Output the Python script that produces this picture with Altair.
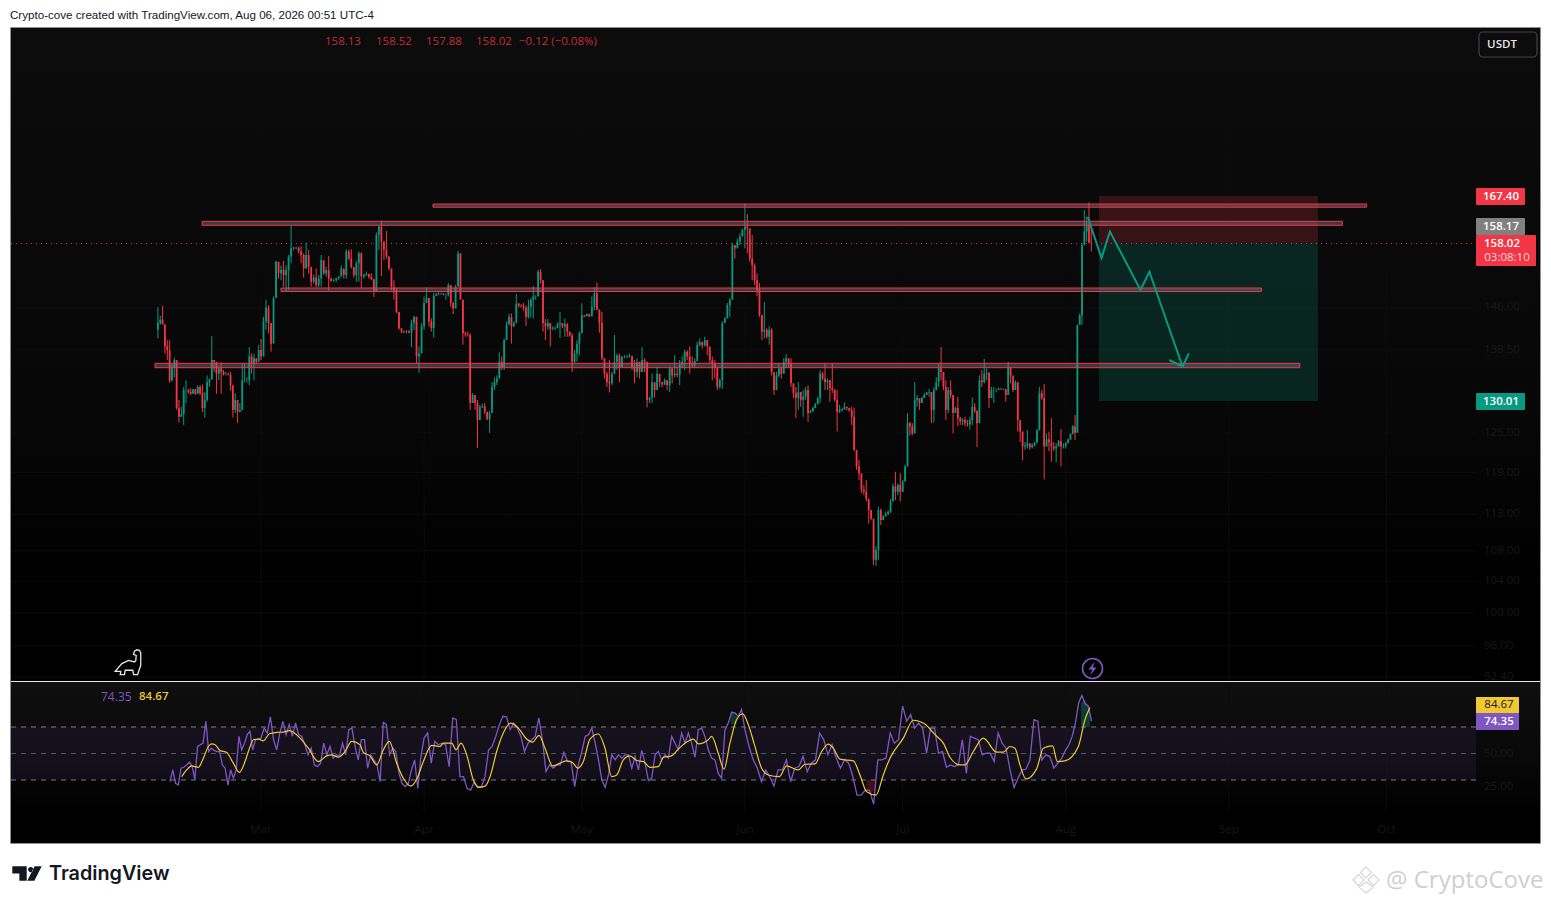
import altair as alt
import numpy as np
import pandas as pd

# Candles per month as (high, low, close); open = previous close
FIRST_OPEN = 142.0
FEB = [(146.1,140.5,143.2),(144.5,142.9,143.8),(146.3,142.9,143.0),(141.1,137.9,139.1),(140.2,136.8,138.5),
(140.2,133.0,133.4),(136.2,133.2,135.6),(137.2,133.9,136.8),(136.8,128.6,128.9),(130.2,126.6,127.5),
(129.1,127.5,127.9),(132.3,126.2,131.8),(133.4,129.7,131.8),(132.0,131.2,131.5),(132.1,131.0,131.2),
(132.0,131.2,131.9),(132.0,131.0,131.2),(132.6,131.2,132.3),(132.6,131.0,131.3),(132.7,128.2,128.9),
(131.5,127.4,130.2),(134.2,129.9,133.1),(133.7,132.3,133.5),(140.9,133.7,136.8),(136.8,134.8,136.5),
(136.0,131.2,134.5),(135.7,133.4,135.4),(136.4,131.2,134.8),(135.1,134.2,134.4),(134.8,134.2,134.4),
(134.7,134.2,134.3),(134.8,131.7,132.6),(131.0,127.4,128.6),(131.3,128.1,130.2),(130.2,126.5,128.3),
(129.7,128.2,128.6),(136.2,128.6,133.4),(136.2,133.1,133.4),(133.9,133.0,133.4),(139.0,132.6,137.4),
(137.9,134.5,136.2),(137.9,133.4,137.1),(137.0,136.2,136.5),(139.4,136.5,138.5)]
MAR = [(140.4,136.8,137.4),(144.3,140.2,143.5),(147.4,142.0,146.0),(146.4,141.4,143.2),(143.2,138.2,139.6),
(148.0,144.3,147.7),(154.7,148.0,154.5),(153.8,151.3,152.3),(153.8,151.0,153.0),(154.7,149.8,152.0),
(153.8,148.9,152.9),(155.8,149.2,155.5),(161.6,154.2,157.1),(157.4,156.7,157.1),(157.4,156.9,157.2),
(157.4,156.1,156.5),(157.5,154.2,155.8),(156.1,151.5,153.2),(158.2,153.2,155.8),(156.8,152.3,153.5),
(152.3,149.8,150.7),(152.0,150.4,151.5),(153.2,149.7,150.1),(152.0,149.7,151.3),(155.8,149.8,154.8),
(153.5,152.0,152.3),(153.5,151.7,152.9),(155.6,149.1,151.3),(151.5,150.7,150.9),(151.3,150.7,151.0),
(151.5,150.7,151.4),(151.8,151.0,151.7),(153.8,151.7,153.2),(152.9,151.3,152.0),(156.9,151.3,156.5),
(156.8,154.8,155.1),(156.9,153.2,153.5),(153.4,151.5,152.0),(154.7,150.7,154.2),(156.5,150.7,156.1),
(156.3,149.5,151.7),(152.2,151.3,152.0),(152.6,151.8,152.2),(152.0,151.3,151.6),(152.3,151.0,151.2),
(151.3,147.9,148.9),(160.2,152.9,159.7),(161.7,156.8,161.4),(162.6,151.8,158.4),(158.4,154.8,156.8),
(160.5,155.1,155.5),(155.5,152.9,153.2),(153.2,149.2,149.8),(151.0,147.4,149.2),(149.5,144.9,145.2),
(145.2,142.0,142.3),(141.9,141.4,141.7),(141.9,141.4,141.6),(142.0,141.4,141.7),(142.0,141.4,141.5),
(143.8,139.0,143.2),(144.5,142.0,144.3),(144.3,136.2,137.4),(139.1,134.6,137.9),(143.2,138.5,142.6)]
APR = [(148.0,142.0,146.8),(149.7,147.1,147.7),(147.1,142.6,143.5),(144.0,141.7,142.3),(148.6,140.6,148.1),
(148.7,148.1,148.4),(148.8,148.2,148.5),(148.7,148.3,148.5),(148.6,148.2,148.3),(148.5,147.4,148.3),
(150.5,148.0,150.1),(150.0,146.1,146.8),(147.0,144.8,145.8),(150.1,148.3,149.8),(156.6,150.1,156.1),
(156.1,148.0,147.4),(147.4,139.4,141.4),(141.7,140.8,141.2),(141.7,140.8,141.1),(141.4,128.6,129.7),
(131.3,129.7,131.0),(130.5,128.6,129.7),(130.2,122.7,127.0),(129.4,128.9,129.1),(129.6,128.9,129.2),
(129.7,127.9,128.3),(128.1,127.0,127.1),(128.5,125.0,128.1),(133.1,129.1,132.3),(133.9,131.8,133.1),
(134.2,132.6,133.7),(138.1,134.2,136.5),(137.4,135.1,135.6),(140.5,135.1,140.2),(143.5,140.5,142.9),
(144.9,143.2,144.3),(144.9,139.6,142.6),(143.5,142.6,143.2),(148.5,144.8,146.7),(146.8,146.0,146.3),
(146.6,146.0,146.2),(146.8,145.4,145.9),(146.4,142.7,144.3),(147.4,144.0,146.1),(147.7,144.2,147.4),
(149.9,144.0,148.0),(148.3,147.4,148.0),(153.0,148.3,152.6),(153.1,150.4,151.0),(151.0,141.7,143.2),
(143.9,140.2,142.6),(143.9,142.0,143.2),(143.2,139.1,142.1),(142.6,142.0,142.2),(142.6,142.0,142.3),
(143.3,142.5,143.0),(145.2,140.6,143.2),(143.2,142.3,142.6),(144.0,140.8,143.0),(143.2,140.8,141.7),
(141.7,140.8,141.0),(141.4,134.8,136.5),(138.5,136.2,137.9),(140.2,136.5,139.6),(141.7,137.6,141.4)]
MAY = [(146.7,141.7,144.6),(144.6,144.3,144.4),(144.9,144.5,144.8),(144.9,144.3,144.4),(148.0,144.9,146.1),
(149.7,145.5,148.6),(150.6,145.5,145.6),(145.6,141.5,143.2),(145.2,136.8,137.1),(137.1,133.7,134.5),
(134.8,132.3,133.1),(136.8,131.4,132.9),(134.8,132.6,134.5),(141.1,134.5,136.5),(137.9,135.1,137.6),
(137.9,133.1,135.6),(137.5,137.1,137.3),(137.6,137.1,137.3),(137.6,137.1,137.4),(137.9,137.2,137.5),
(137.1,135.1,135.6),(136.8,132.9,134.8),(137.1,133.9,136.5),(136.2,133.7,134.8),(139.0,134.8,136.8),
(137.1,134.8,136.5),(136.2,129.0,130.2),(130.7,129.7,130.6),(134.5,129.7,133.1),(132.9,130.6,131.8),
(135.6,132.3,134.5),(133.9,132.3,133.1),(133.0,132.3,132.7),(133.7,132.6,133.4),(133.4,131.8,132.6),
(135.7,131.5,135.4),(135.4,132.9,134.2),(137.6,133.9,134.5),(135.6,133.9,134.3),(136.8,132.6,136.0),
(137.4,135.4,136.5),(138.6,135.1,138.2),(138.5,136.8,137.4),(139.1,134.5,136.2),(137.4,135.6,136.0),
(137.1,135.4,136.6),(139.9,137.1,139.4),(140.5,139.1,139.9),(139.8,138.8,139.3),(140.8,139.1,140.2),
(140.2,137.6,139.1),(138.8,136.2,136.8),(137.4,133.4,136.2),(136.8,133.7,135.6),(134.5,131.8,132.3),
(133.7,132.0,133.4),(143.5,132.0,143.2),(144.3,143.5,144.0),(146.8,144.3,146.4),(147.7,144.3,147.4),
(158.1,147.4,157.7),(157.7,155.1,157.1),(159.0,157.4,158.4),(160.0,157.7,159.4),(161.0,159.7,160.7)]
JUN = [(166.1,157.1,161.4),(163.9,156.1,161.0),(158.7,154.5,155.1),(159.7,151.0,153.8),(154.2,150.1,151.0),
(152.3,148.0,149.2),(150.5,144.3,144.6),(144.6,140.2,141.7),(147.0,140.5,142.0),(142.3,140.5,140.8),
(142.7,139.4,142.0),(142.3,134.2,134.8),(133.9,131.0,131.8),(134.8,132.9,134.2),(136.2,133.9,135.4),
(135.6,133.7,134.5),(137.1,134.5,136.5),(137.8,135.4,137.1),(136.8,135.6,136.2),(137.1,132.3,132.9),
(132.9,130.5,131.3),(132.3,127.3,130.5),(133.1,128.6,131.5),(131.5,129.1,130.2),(131.8,127.5,130.7),
(132.3,130.2,131.8),(132.6,126.7,128.1),(128.6,128.1,128.4),(129.1,128.3,128.9),(129.7,128.9,129.5),
(130.7,129.7,130.5),(135.1,129.7,134.5),(134.8,133.4,133.7),(136.2,131.8,133.1),(133.7,131.8,133.4),
(133.4,129.9,132.1),(136.2,131.3,131.8),(132.0,129.9,130.2),(131.8,125.2,128.3),(129.4,128.1,128.6),
(128.9,128.3,128.7),(129.8,128.6,129.1),(129.1,128.5,128.9),(128.9,128.3,128.5),(129.1,126.2,127.5),
(128.9,122.2,122.4),(122.2,119.4,119.9),(120.9,117.9,118.9),(117.9,116.0,116.5),(117.2,115.7,116.2),
(117.9,114.8,115.2),(114.8,111.7,113.6),(113.6,112.2,112.4),(111.7,106.1,106.8),(108.6,106.0,108.1),
(114.1,106.8,113.6),(113.8,111.5,112.2),(112.9,112.2,112.7),(113.4,112.7,113.0),(113.6,112.9,113.3),
(115.2,113.2,114.8),(117.4,115.0,117.0),(119.1,115.0,116.2),(117.4,115.7,117.2),(118.9,114.8,116.2)]
JUL = [(117.9,116.2,117.7),(120.1,117.9,119.9),(128.1,119.9,126.5),(126.7,124.6,126.0),(126.5,124.6,124.9),
(133.1,128.1,130.2),(131.0,129.1,130.5),(130.2,128.6,129.7),(130.7,129.7,130.5),(131.3,130.5,131.0),
(131.5,131.0,131.4),(132.0,130.7,131.5),(130.5,126.5,128.6),(132.3,126.6,131.8),(133.9,131.8,133.1),
(136.2,132.3,135.4),(139.0,133.4,134.8),(134.8,131.8,132.3),(133.4,127.0,128.6),(132.3,128.1,131.8),
(133.4,130.5,131.0),(130.5,124.9,128.1),(129.1,128.1,128.9),(130.7,126.0,127.3),(127.5,126.2,126.8),
(127.3,126.2,127.0),(127.5,126.0,126.5),(127.0,126.0,126.3),(127.5,125.5,127.0),(130.6,126.2,129.1),
(129.7,128.1,128.4),(128.6,122.8,126.5),(134.2,131.8,133.4),(135.1,132.3,133.1),(137.0,132.9,134.5),
(135.4,133.4,134.6),(134.8,128.9,130.5),(132.3,130.5,131.8),(132.3,129.7,131.8),(132.0,131.5,131.8),
(132.2,131.8,132.0),(132.2,131.8,132.0),(132.0,131.8,131.9),(132.0,129.9,131.0),(136.5,132.9,135.6),
(134.6,132.9,134.2),(132.9,131.5,131.8),(133.4,131.8,133.1),(131.8,125.2,127.0),(126.5,123.6,125.2),
(125.2,120.8,122.9),(123.6,122.4,123.0),(125.4,122.6,123.4),(123.1,122.4,122.8),(123.4,122.6,123.1),
(123.6,122.9,123.5),(125.6,123.4,125.4),(132.3,125.4,131.3),(131.8,130.2,130.5),(132.8,118.0,122.9),
(124.9,122.9,124.0),(125.2,122.2,123.5),(127.3,120.6,122.9),(123.6,122.2,122.6),(123.4,120.5,122.9),
(123.9,122.9,123.7),(125.6,119.9,122.9),(123.4,122.6,123.0)]
AUG = [(123.6,122.6,123.4),(124.1,123.6,124.0),(124.9,123.9,124.8),(126.2,124.9,126.0),(127.8,123.9,125.0),
(142.9,125.2,142.9),(144.9,142.9,144.6),(158.1,142.9,157.7),(164.7,158.1,160.4),(163.4,158.4,161.7),
(166.3,158.4,158.13),(161.4,156.5,158.02)]
CANDLE_MONTHS = [FEB, MAR, APR, MAY, JUN, JUL, AUG]
CANDLE_EDGES = [-19.6, 0, 31, 61, 92, 122, 153, 158.3]

# RSI (purple) per month
RSI_FEB = [28.7,37.6,27.5,26.2,38.9,39.6,41.4,43.4,40.6,30.5,55.3,56.6,57.8,74.3,51.5,54,52.3,51.5,51.5,41.4,38.9,26.2,37.6,31.3,37.6,62.9,52.8,57.8,64.2,66.7,52.8,60.4,60.9]
RSI_MAR = [61.6,69.2,65.4,77.6,60.4,52.8,65.4,74.3,64.2,71.8,62.9,73,64.2,62.9,56.6,49,54,41.4,40.1,42.7,57.8,49,55.3,46.5,49,48.3,57.8,49,68,69.2,55.3,45.2,60.4,60.4,38.9,49,45.2,41.4,28.7,73.5,71.8,49,54,51.5,35,27.5,25,27.5,37.6,45.2,23.7,47.7]
RSI_APR = [61.6,65.4,42.7,59.1,56.6,57.8,56.6,40.1,76.8,75.6,32.5,32.5,23.7,22.4,28.7,24.9,24.9,32.5,52.8,55.3,62.9,71.8,78.1,77.6,68,73,69.2,62.9,51.5,57.8,60.4,62.9,76.8,60.4,36.3,41.4,38.9,41.4,41.4,50.8,43.9,43.9,24.9,41.4]
RSI_MAY = [51.5,62.9,64.2,69.2,57.8,45.2,30,24.4,33.8,49,45.2,49,46.5,49,49,38.9,47.7,37.6,52.3,42.7,29.5,31.3,49,51.5,45.2,49,46.5,62.9,57.8,52.8,65.4,57.8,65.4,57.8,47.2,68,69.2,62.9,52.8,46.5,45.2,35,31.3,68,73,81.1,80.6,78.1,83.2]
RSI_JUN = [68,55.3,45.2,38.9,28.7,37.6,32.5,25.4,37.6,37.6,45.2,28.7,38.9,40.1,47.7,36.3,42.7,45.2,65.4,60.4,49,56.6,46.5,38.9,45.2,42.7,32.5,18.6,18.6,22.4,22.4,11.8,45.2,45.2,46.5,65.4,57.8,60.4]
RSI_JUL = [85.7,74.3,79.4,69.2,73,69.2,50.2,69.2,69.2,50.2,51.5,39.6,41.4,40.1,41.4,60.4,35,62.9,61.6,60.4,49,50.2,50.2,43.9,65.4,57.8,54,37.6,24.4,31.3,37.6,38.1,45.2,75.6,74.3,45.2,49,47.7,38.9,42.7,46.5]
RSI_AUG = [52.8,56.6,62.9,73,88.2,93.8,87.7,85.7,74.35]
RSI_MONTHS = [RSI_FEB, RSI_MAR, RSI_APR, RSI_MAY, RSI_JUN, RSI_JUL, RSI_AUG]
RSI_EDGES = [-17.3, 0, 31, 61, 92, 122, 153, 157.9]

# RSI moving average (yellow)
MA_DAY = [-15.08,-14.13,-13.18,-11.91,-10.96,-10.01,-9.38,-8.74,-7.79,-6.52,-5.26,-4.12,-3.04,-2.41,-1.45,-0.5,0.45,1.59,2.98,4.25,5.39,7.42,9.0,10.9,12.49,13.44,14.7,15.97,17.24,18.82,19.46,20.73,21.99,23.26,24.4,25.79,27.06,28.46,29.6,30.86,32.45,34.03,34.67,36.25,37.08,38.03,39.1,40.37,41.32,42.59,43.54,44.81,46.07,47.47,48.93,50.51,51.65,52.85,54.0,55.45,56.85,58.12,59.38,60.2,61.28,62.55,64.13,65.4,66.67,67.62,68.89,
70.15,71.42,72.69,73.95,75.54,76.49,78.07,79.34,80.61,82.19,83.14,85.04,85.68,86.94,88.02,89.16,90.43,91.57,92.65,93.73,95.18,96.45,98.54,99.94,102.15,103.42,105.32,106.59,107.86,108.81,110.08,112.61,113.88,115.15,116.92,118.31,119.58,122.12,124.02,126.23,128.14,129.72,130.99,132.89,133.84,135.42,137.32,139.86,141.13,142.39,143.34,144.29,145.44,147.46,148.73,150.5,151.39,152.85,155.39,156.65,157.6]
MA_VAL = [32.5,37.6,40.6,39.6,46.5,55.3,57.3,56.6,52.3,50.8,42.7,35.8,43.9,51.5,60.4,60.9,59.6,64.9,65.9,66.2,67.2,61.6,54,43.9,48.2,49,47.2,51.5,59.1,56.6,50.8,48.2,41.4,52.8,59.1,42.7,31.3,25.4,30.5,43.9,56.1,55.3,57.8,57.8,52.8,57.8,49,30,24.4,25.4,32.5,51.5,65.4,73,69.2,60.9,58.6,63.7,54,40.6,42.7,44.4,42.7,38.9,43.9,60.9,64.7,54,32.5,33.8,45.2,
48.2,44.7,43.9,39.6,40.1,47,48.2,53.3,57.8,60.9,57.3,60.4,62.9,50.2,38.1,57.8,75.6,79.9,71.8,57.8,38.9,33.8,32.5,40.6,37.6,41.9,42.1,51.5,57.1,54,45.7,44.4,33.8,21.1,18.6,33.8,46.5,61.6,75.1,72.3,64.2,57.8,47.2,41.4,41.4,51.5,61.6,51,51,55.3,54,41.4,30.8,38.4,54,55.8,43.9,44.4,55.3,75.6,84.67]

# Drawn boxes: day-left, day-right, price-bottom, price-top
BOX_D0 = [32.7, -11.2, 3.8, -20.15]
BOX_D1 = [210.2, 205.6, 190.2, 197.5]
BOX_P0 = [165.3, 161.64, 148.9, 135.5]
BOX_P1 = [165.95, 162.44, 149.56, 136.24]

# Short position tool
POS_D0, POS_D1 = 159.3, 200.95
POS_STOP, POS_ENTRY, POS_TARGET = 167.6, 158.13, 130.01

# Drawn arrow
ARROW_D = [157.2,159.8,161.4,167.2,168.9,175.2]
ARROW_P = [163.3,155.2,160.4,149.2,152.6,135.7]
HEAD_D = [172.7,175.2,176.4]
HEAD_P = [136.8,135.7,137.9]

LAST_PRICE = 158.02
AXIS_PRICES = [146.0,138.5,125.0,119.0,113.0,108.0,104.0,100.0,96.0,92.4]
AXIS_TEXT = ["146.00","138.50","125.00","119.00","113.00","108.00","104.00","100.00","96.00","92.40"]
RSI_TICKS = [50, 25]
RSI_TEXT = ["50.00","25.00"]
MONTH_DAYS = [0,31,61,92,122,153,184,214]
MONTH_NAMES = ["Mar","Apr","May","Jun","Jul","Aug","Sep","Oct"]
RSI_OUTER_LEVELS = [70, 30]
RSI_MID_LEVEL = [50]

OHLC_TEXT = ["158.13","158.52","157.88","158.02","\u22120.12 (\u22120.08%)"]
OHLC_X = [325,376,426,476,519]

OB_D = [155.9,156.2,156.7,157.1,157.6]
OB_TOP = [88,90,90,87,84]
JUNE_D = [89.3,89.9,90.5]
JUNE_TOP = [80.6,80.6,78]
JULY_D = [115.1,115.9,116.7]
JULY_LOW = [23,20,22]

RED = "#f23645"
GREEN = "#089981"
PURPLE = "#7e57c2"
YELLOW = "#f2c832"
FONT = "Open Sans"

XS = alt.Scale(domain=[0, 214], range=[253, 1378.6], nice=False, zero=False)
PS = alt.Scale(type="log", domain=[100, 167.4], range=[605, 189], nice=False)
RS = alt.Scale(domain=[30, 70], range=[772, 719], nice=False, zero=False)

def X(f="day"):
    return alt.X(f + ":Q", scale=XS, axis=None)
def YP(f):
    return alt.Y(f + ":Q", scale=PS, axis=None)
def YR(f):
    return alt.Y(f + ":Q", scale=RS, axis=None)

ONE = alt.Data(values=[{"a": 1}])
def px(v):
    return alt.value(v - 8)

def rect(x0, y0, x1, y1, **kw):
    return alt.Chart(ONE).mark_rect(**kw).encode(x=px(x0), x2=px(x1), y=px(y0), y2=px(y1))

def text(s, x, y, color, size=11.5, align="left", weight="normal", font=FONT):
    return alt.Chart(ONE).mark_text(fontSize=size, align=align, baseline="middle", color=color,
                                    fontWeight=weight, font=font).encode(
        x=px(x), y=px(y + 0.7), text=alt.value(s))

def glyph(path, x, y, half, **kw):
    return alt.Chart(ONE).mark_point(shape=path, size=(2 * half) ** 2, opacity=1, **kw).encode(x=px(x), y=px(y))

# Tables
rows = []
prev = FIRST_OPEN
for i, month in enumerate(CANDLE_MONTHS):
    days = np.linspace(CANDLE_EDGES[i], CANDLE_EDGES[i + 1], len(month), endpoint=False)
    for d, (h, l, c) in zip(days, month):
        rows.append(dict(day=float(d), open=prev, high=h, low=l, close=c))
        prev = c
candles = pd.DataFrame(rows)
up = candles[candles.close >= candles.open]
down = candles[candles.close < candles.open]

rsi_rows = []
for i, month in enumerate(RSI_MONTHS):
    days = np.linspace(RSI_EDGES[i], RSI_EDGES[i + 1], len(month), endpoint=(i == len(RSI_MONTHS) - 1))
    rsi_rows += [dict(day=float(d), rsi=v) for d, v in zip(days, month)]
rsi = pd.DataFrame(rsi_rows)
ma = pd.DataFrame({"day": MA_DAY, "ma": MA_VAL})

boxes = pd.DataFrame({"d0": BOX_D0, "d1": BOX_D1, "p0": BOX_P0, "p1": BOX_P1})
stop = pd.DataFrame({"d0": [POS_D0], "d1": [POS_D1], "p0": [POS_ENTRY], "p1": [POS_STOP]})
target = pd.DataFrame({"d0": [POS_D0], "d1": [POS_D1], "p0": [POS_TARGET], "p1": [POS_ENTRY]})
arrow = pd.DataFrame({"day": ARROW_D, "p": ARROW_P})
head = pd.DataFrame({"day": HEAD_D, "p": HEAD_P})
axis_df = pd.DataFrame({"p": AXIS_PRICES, "t": AXIS_TEXT})
rsi_ax = pd.DataFrame({"v": RSI_TICKS, "t": RSI_TEXT})
months = pd.DataFrame({"day": MONTH_DAYS, "t": MONTH_NAMES})
band = pd.DataFrame({"lo": [30], "hi": [70]})

grad_main = alt.Gradient(gradient="linear", x1=0, x2=0, y1=0, y2=1,
                         stops=[alt.GradientStop(color="#0c0c0d", offset=0),
                                alt.GradientStop(color="#070707", offset=0.6),
                                alt.GradientStop(color="#000000", offset=0.85)])
grad_rsi = alt.Gradient(gradient="linear", x1=0, x2=0, y1=0, y2=1,
                        stops=[alt.GradientStop(color="#0f0f10", offset=0),
                               alt.GradientStop(color="#080808", offset=0.5),
                               alt.GradientStop(color="#000000", offset=0.8)])

L = []
# panels
L.append(rect(11, 28, 1540, 681, fill=grad_main))
L.append(rect(11, 682, 1540, 843, fill=grad_rsi))
# grid
L.append(alt.Chart(axis_df).mark_rule(color="#0d0d0d", strokeWidth=1).encode(
    x=px(11), x2=px(1476), y=YP("p")))
L.append(alt.Chart(months).mark_rule(color="#0d0d0d", strokeWidth=1).encode(
    x=X(), y=px(28), y2=px(681)))
L.append(alt.Chart(months).mark_rule(color="#0d0d0d", strokeWidth=1).encode(
    x=X(), y=px(682), y2=px(812)))
# position tool
L.append(alt.Chart(stop).mark_rect(fill=RED, fillOpacity=0.2).encode(
    x=X("d0"), x2="d1:Q", y=YP("p0"), y2="p1:Q"))
L.append(alt.Chart(target).mark_rect(fill=GREEN, fillOpacity=0.2).encode(
    x=X("d0"), x2="d1:Q", y=YP("p0"), y2="p1:Q"))
# last price
L.append(alt.Chart(pd.DataFrame({"p": [LAST_PRICE]})).mark_rule(color=RED, strokeWidth=1, strokeDash=[1, 4]).encode(
    x=px(11), x2=px(1476), y=YP("p")))
# candles
for frame, col in [(up, GREEN), (down, RED)]:
    L.append(alt.Chart(frame).mark_rule(strokeWidth=1, color=col).encode(
        x=X(), y=YP("low"), y2="high:Q"))
    L.append(alt.Chart(frame).mark_rule(strokeWidth=1.8, color=col).encode(
        x=X(), y=YP("open"), y2="close:Q"))
# boxes
L.append(alt.Chart(boxes).mark_rect(fill="#787b86", fillOpacity=0.45, stroke=RED, strokeWidth=1).encode(
    x=X("d0"), x2="d1:Q", y=YP("p0"), y2="p1:Q"))
# arrow
L.append(alt.Chart(arrow.assign(o=range(len(arrow)))).mark_line(color=GREEN, strokeWidth=2).encode(
    x=X(), y=YP("p"), order="o:Q"))
L.append(alt.Chart(head.assign(o=range(len(head)))).mark_line(color=GREEN, strokeWidth=2).encode(
    x=X(), y=YP("p"), order="o:Q"))
# price axis text
L.append(alt.Chart(axis_df).mark_text(font=FONT, fontSize=11.5, align="left", baseline="middle", color="#181818").encode(
    x=px(1484), y=YP("p"), text="t:N"))
# RSI band
L.append(alt.Chart(band).mark_rect(fill=PURPLE, fillOpacity=0.1).encode(
    x=px(11), x2=px(1476), y=YR("lo"), y2="hi:Q"))
L.append(alt.Chart(pd.DataFrame({"v": RSI_OUTER_LEVELS})).mark_rule(color="#787b86", strokeWidth=1, strokeDash=[5, 5]).encode(
    x=px(11), x2=px(1476), y=YR("v")))
L.append(alt.Chart(pd.DataFrame({"v": RSI_MID_LEVEL})).mark_rule(color="#44585a", strokeWidth=1, strokeDash=[5, 5]).encode(
    x=px(11), x2=px(1476), y=YR("v")))
# RSI extreme fills
L.append(alt.Chart(pd.DataFrame({"day": OB_D, "t": OB_TOP, "b": 70})).mark_area(color=GREEN, opacity=0.35).encode(
    x=X(), y=YR("t"), y2="b:Q"))
L.append(alt.Chart(pd.DataFrame({"day": JUNE_D, "t": JUNE_TOP, "b": 72})).mark_area(color=GREEN, opacity=0.3).encode(
    x=X(), y=YR("t"), y2="b:Q"))
L.append(alt.Chart(pd.DataFrame({"day": JULY_D, "t": JULY_LOW, "b": 30})).mark_area(color=RED, opacity=0.25).encode(
    x=X(), y=YR("t"), y2="b:Q"))
# RSI lines
L.append(alt.Chart(rsi).mark_line(color=PURPLE, strokeWidth=1.3).encode(x=X(), y=YR("rsi")))
L.append(alt.Chart(ma).mark_line(color=YELLOW, strokeWidth=1.2, interpolate="monotone").encode(x=X(), y=YR("ma")))
L.append(alt.Chart(rsi_ax).mark_text(font=FONT, fontSize=11.5, align="left", baseline="middle", color="#181818").encode(
    x=px(1484), y=YR("v"), text="t:N"))
L.append(alt.Chart(months).mark_text(font=FONT, fontSize=11.5, align="center", baseline="middle", color="#181818").encode(
    x=X(), y=px(830), text="t:N"))
# frame
L.append(rect(10.5, 27.5, 1540.5, 843.5, fill="transparent", stroke="#8f8f8f", strokeWidth=1))
L.append(rect(11, 681, 1540, 682, fill="#e8e8e8"))

# price tags
for label, y0, y1, fill, color in [("167.40", 188, 205, RED, "#ffffff"), ("158.17", 218, 235, "#808080", "#ffffff"),
                                   ("130.01", 393, 410, GREEN, "#ffffff")]:
    L.append(rect(1476, y0, 1525, y1, fill=fill, cornerRadius=1))
    L.append(text(label, 1501, (y0 + y1) / 2 - 0.3, color, align="center", weight=600))
L.append(rect(1476, 235, 1536, 266, fill=RED, cornerRadius=1))
L.append(text("158.02", 1502, 243, "#ffffff", align="center", weight=600))
L.append(text("03:08:10", 1507, 257.5, "#ffd5d8", align="center"))
L.append(rect(1476, 697, 1519, 713, fill=YELLOW))
L.append(text("84.67", 1499, 704.5, "#131722", align="center"))
L.append(rect(1476, 713, 1519, 730, fill=PURPLE))
L.append(text("74.35", 1499, 721.2, "#ffffff", align="center", weight=600))
# USDT button
L.append(rect(1479, 32, 1537, 57, fill="#0c0c0d", stroke="#434343", strokeWidth=1.2, cornerRadius=4))
L.append(text("USDT", 1502, 44.5, "#e6e6e6", size=11.5, align="center", weight=600))
# OHLC legend
for s, x in zip(OHLC_TEXT, OHLC_X):
    L.append(text(s, x, 41.5, "#c22c39", size=11.5))
L.append(text("74.35", 101, 696.5, PURPLE, size=12))
L.append(text("84.67", 139, 696.5, YELLOW, size=11.5, weight=600))
# heading, footer
L.append(text("Crypto-cove created with TradingView.com, Aug 06, 2026 00:51 UTC-4", 10, 14.8, "#131722",
              size=11.6, font="Liberation Sans"))
DINO = "M.38,-.58L.45,-.82L.62,-.92L.82,-.88L.92,-.68L.92,.25L.68,.95L.38,.95L.32,.62L-.25,.62L-.3,.95L-.62,.95L-.58,.7L-1,.7L-.5,.12L0,-.12L.45,0L.55,-.12L.58,-.5Z"
L.append(glyph(DINO, 128.5, 662, 13.3, filled=False, color="#e8e8e8", strokeWidth=1.3))
BOLT = "M.25,-.75L-.45,.1L-.02,.1L-.25,.75L.45,-.1L.02,-.1Z"
L.append(glyph("circle", 1092.5, 668.5, 10, filled=False, color=PURPLE, strokeWidth=1.6))
L.append(glyph(BOLT, 1092.5, 668.5, 9, filled=True, color=PURPLE))
LOGO = ("M-1,-.5L-.02,-.5L-.02,.5L-.52,.5L-.52,0L-1,0Z"
        "M1,-.5L.5,.5L.02,.5L.52,-.5Z"
        "M.07,-.27a.18,.18 0 1,0 .36,0a.18,.18 0 1,0 -.36,0Z")
L.append(glyph(LOGO, 27, 873.5, 14.7, filled=True, color="#131722"))
L.append(text("TradingView", 49, 873.5, "#131722", size=19.8, weight=600, font="Inter"))
BIN = ("M0,-1L.42,-.58L0,-.16L-.42,-.58Z M-.58,-.42L-.16,0L-.58,.42L-1,0Z "
       "M.58,-.42L1,0L.58,.42L.16,0Z M0,.16L.55,.55L0,1L-.55,.55Z")
L.append(glyph(BIN, 1366, 880, 13, filled=False, color="#d6d6d6", strokeWidth=1.2))
L.append(text("@ CryptoCove", 1386, 880, "#cfcfcf", size=24, font="Open Sans"))

chart = alt.layer(*L).resolve_scale(y="independent").properties(
    width=1535, height=886, padding=0, background="#ffffff",
    autosize=alt.AutoSizeParams(type="none")
).configure_view(stroke=None)

chart.save("out.html", embed_options={"renderer": "svg", "actions": False})
